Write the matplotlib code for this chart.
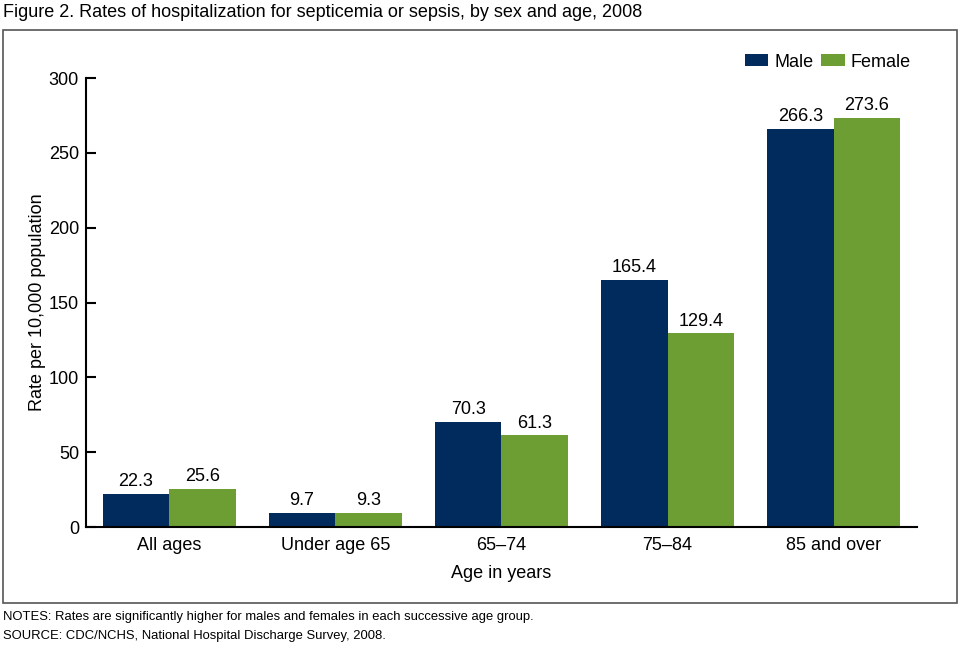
import numpy as np
import matplotlib
matplotlib.use('Agg')
import matplotlib.pyplot as plt
from matplotlib.patches import Rectangle

plt.rcParams['font.family'] = ['Liberation Sans', 'DejaVu Sans']

age_groups = ["All ages", "Under age 65", "65\u201374", "75\u201384", "85 and over"]
male_rates = [22.3, 9.7, 70.3, 165.4, 266.3]
female_rates = [25.6, 9.3, 61.3, 129.4, 273.6]

MALE_COLOR = "#002b5c"
FEMALE_COLOR = "#6c9e33"
FS = 13


def plot_rates(male, female, labels):
    fig = plt.figure(figsize=(9.6, 6.46), dpi=100)
    ax = fig.add_axes([0.0896, 0.184, 0.8654, 0.695])

    x = np.arange(len(labels))
    w = 0.4
    ax.bar(x - w / 2, male, w, color=MALE_COLOR, label="Male")
    ax.bar(x + w / 2, female, w, color=FEMALE_COLOR, label="Female")

    for xi, m, f in zip(x, male, female):
        ax.text(xi - w / 2, m + 2.5, f"{m:.1f}", ha="center", va="bottom", fontsize=FS)
        ax.text(xi + w / 2, f + 2.5, f"{f:.1f}", ha="center", va="bottom", fontsize=FS)

    ax.set_xlim(-0.5, len(labels) - 0.5)
    ax.set_ylim(0, 300)
    ax.set_yticks(range(0, 301, 50))
    ax.set_xticks(x, labels)
    ax.tick_params(axis="x", length=0, labelsize=FS, pad=7)
    ax.tick_params(axis="y", direction="in", length=7, width=1.5, labelsize=FS, pad=5)
    for side in ("top", "right"):
        ax.spines[side].set_visible(False)
    for side in ("left", "bottom"):
        ax.spines[side].set_linewidth(1.5)

    ax.set_ylabel("Rate per 10,000 population", fontsize=FS, labelpad=2)
    ax.set_xlabel("Age in years", fontsize=FS, labelpad=8)

    ax.legend(loc="center right", bbox_to_anchor=(0.993, 1.036), ncol=2, frameon=False,
              fontsize=FS, handlelength=1.3, handleheight=0.6, columnspacing=0.4,
              handletextpad=0.35, borderaxespad=0, borderpad=0)

    # frame around the chart area
    fig.patches.append(Rectangle((0.003, 0.0666), 0.994, 0.887, transform=fig.transFigure,
                                 fill=False, edgecolor="#555555", linewidth=1.2))

    fig.text(0.003, 0.981, "Figure 2. Rates of hospitalization for septicemia or sepsis, by sex and age, 2008",
             ha="left", va="center", fontsize=FS)
    fig.text(0.003, 0.045, "NOTES: Rates are significantly higher for males and females in each successive age group.",
             ha="left", va="center", fontsize=9.4)
    fig.text(0.003, 0.016, "SOURCE: CDC/NCHS, National Hospital Discharge Survey, 2008.",
             ha="left", va="center", fontsize=9.4)
    return fig


fig = plot_rates(male_rates, female_rates, age_groups)
fig.savefig("out.png", dpi=100)
